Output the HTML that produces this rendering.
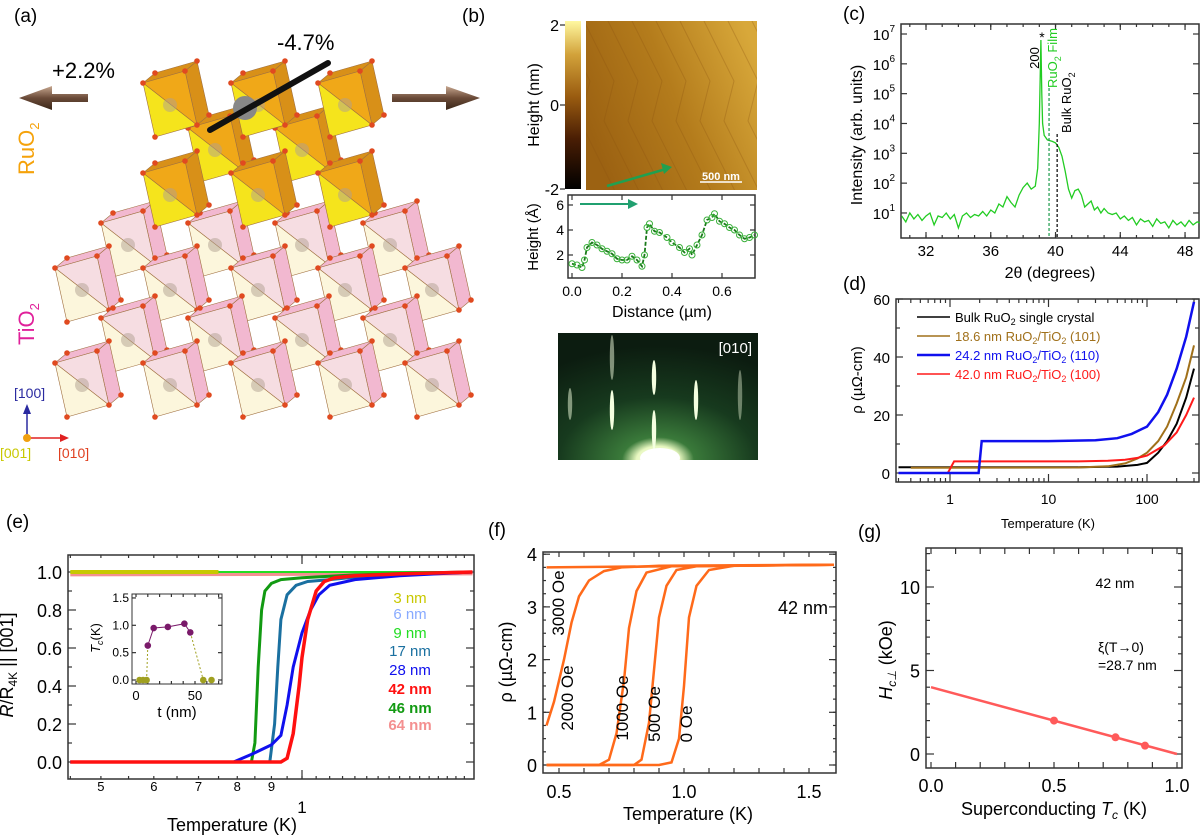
<!DOCTYPE html>
<html><head><meta charset="utf-8"><style>
html,body{margin:0;padding:0;background:#fff;}
svg{display:block;font-family:"Liberation Sans",sans-serif;}
</style></head><body>
<svg id="fig" width="1200" height="835" viewBox="0 0 1200 835" xmlns="http://www.w3.org/2000/svg">
<defs>
<linearGradient id="cbar" x1="0" y1="1" x2="0" y2="0">
<stop offset="0" stop-color="#000"/><stop offset="0.3" stop-color="#4a1e04"/><stop offset="0.55" stop-color="#9a5c10"/><stop offset="0.8" stop-color="#d2a23a"/><stop offset="1" stop-color="#fff8a0"/></linearGradient>
<linearGradient id="afm" x1="0" y1="0.6" x2="1" y2="0.2">
<stop offset="0" stop-color="#9c6212"/><stop offset="0.5" stop-color="#b47c1c"/><stop offset="1" stop-color="#d8a83a"/></linearGradient>
<radialGradient id="rheed" cx="0.5" cy="1" r="0.9">
<stop offset="0" stop-color="#fff"/><stop offset="0.12" stop-color="#e8f8c0"/><stop offset="0.2" stop-color="#3a7a3a"/><stop offset="0.55" stop-color="#173a1e"/><stop offset="1" stop-color="#0c1c10"/></radialGradient>
<linearGradient id="arrL" x1="0" y1="0" x2="0" y2="1"><stop offset="0" stop-color="#c8a890"/><stop offset="0.5" stop-color="#6a4a38"/><stop offset="1" stop-color="#3a2618"/></linearGradient>
</defs>
</svg>
<script>
var NS='http://www.w3.org/2000/svg';
var svg=document.getElementById('fig');
function mk(tag,attrs,parent,name,inter){
  var el=document.createElementNS(NS,tag);
  for(var k in attrs){el.setAttribute(k,attrs[k]);}
  
  
  (parent||svg).appendChild(el);return el;
}
function txt(x,y,s,attrs,parent,name){
  var a={x:x,y:y,fill:'#000'};for(var k in attrs)a[k]=attrs[k];
  var t=mk('text',a,parent,name);t.textContent=s;return t;
}
function grp(name){return mk('g',{},svg,name);}

/* ===== data arrays ===== */
var profD=[0,0.02,0.04,0.05,0.06,0.08,0.1,0.12,0.14,0.16,0.18,0.2,0.22,0.24,0.26,0.28,0.29,0.3,0.31,0.33,0.35,0.38,0.4,0.43,0.45,0.47,0.48,0.5,0.52,0.54,0.56,0.57,0.59,0.61,0.63,0.65,0.67,0.69,0.71,0.73];
var profH=[1.3,1.2,1.0,1.6,2.6,3.0,2.8,2.5,2.3,2.1,1.7,1.6,1.6,1.9,1.6,1.1,2.0,4.2,4.5,3.9,3.8,3.4,3.0,2.6,2.2,2.5,2.0,2.8,3.6,4.8,5.0,5.3,4.7,4.5,4.2,4.0,3.6,3.3,3.4,3.6];
var profXTicks=[0.0,0.2,0.4,0.6];
var profYTicks=[2,4,6];
var xrdT=[30.5,30.75,31,31.25,31.5,31.75,32,32.25,32.5,32.75,33,33.25,33.5,33.75,34,34.25,34.5,34.75,35,35.25,35.5,35.75,36,36.25,36.5,36.75,37,37.25,37.5,37.75,38,38.25,38.5,38.75,38.9,39.0,39.1,39.15,39.2,39.3,39.5,39.8,40.0,40.2,40.4,40.6,40.8,41.0,41.2,41.4,41.6,41.8,42.0,42.2,42.4,42.6,42.8,43.0,43.25,43.5,43.75,44,44.25,44.5,44.75,45,45.25,45.5,45.75,46,46.25,46.5,46.75,47,47.25,47.5,47.75,48,48.25,48.5,48.75,49];
var xrdLogI=[0.9,0.7,1.0,0.8,0.95,0.75,0.9,1.0,0.6,0.9,0.85,1.0,0.8,0.95,0.5,0.9,1.0,0.85,0.95,0.9,1.05,0.9,1.1,1.0,1.3,1.2,1.55,1.35,1.2,1.6,1.85,2.0,1.8,1.9,2.5,4.0,6.8,5.0,4.0,3.6,3.45,3.4,3.35,3.2,2.9,2.4,1.8,1.5,1.75,1.8,1.6,1.2,1.3,1.4,1.1,1.2,1.0,1.15,1.0,0.95,1.0,0.8,0.9,0.75,0.85,0.6,0.8,0.7,0.75,0.55,0.8,0.65,0.7,0.5,0.75,0.6,0.7,0.55,0.75,0.6,0.7,0.65];
var xrdXTicks=[32,36,40,44,48];
var xrdYTicks=[1,2,3,4,5,6,7];
var dLabels=['Bulk RuO2 single crystal','18.6 nm RuO2/TiO2 (101)','24.2 nm RuO2/TiO2 (110)','42.0 nm RuO2/TiO2 (100)'];
var dBulkT=[0.3,20,50,80,100,130,160,200,250,300];
var dBulkR=[2,2,2.2,2.8,3.5,7,11,17,26,36];
var d101T=[0.4,20,40,60,80,100,130,160,200,250,300];
var d101R=[1.8,1.9,2.3,3.3,5,7,11,16,24,33,44];
var d110T=[0.3,1.95,2.1,10,30,50,70,100,130,160,200,250,300];
var d110R=[0,0,11,11,11.3,12,13.5,16,21,27,36,47,59];
var d100T=[0.4,0.95,1.1,20,40,60,80,100,150,200,250,300];
var d100R=[0,0,4,4,4.2,4.6,5.2,6,9.5,14,20,26];
var dYTicks=[0,20,40,60];
var dXTicks=[1,10,100];
var eLabels=['3 nm','6 nm','9 nm','17 nm','28 nm','42 nm','46 nm','64 nm'];
var t46=[0.45,0.80,0.84,0.85,0.86,0.87,0.88,0.9,0.93,1.0,1.2,1.5,1.8];
var r46=[0,0,0,0.1,0.5,0.8,0.9,0.94,0.96,0.97,0.985,0.995,1.0];
var t17=[0.45,0.88,0.895,0.91,0.92,0.93,0.95,0.98,1.02,1.1,1.3,1.8];
var r17=[0,0,0,0.2,0.5,0.75,0.88,0.93,0.95,0.96,0.985,1.0];
var t28=[0.45,0.79,0.84,0.9,0.93,0.95,0.97,1.0,1.03,1.06,1.1,1.2,1.4,1.8];
var r28=[0,0,0.04,0.09,0.14,0.3,0.5,0.68,0.8,0.88,0.93,0.96,0.98,1.0];
var t42=[0.45,0.93,0.95,0.97,0.99,1.0,1.02,1.05,1.08,1.12,1.2,1.4,1.8];
var r42=[0,0,0.02,0.15,0.4,0.55,0.75,0.9,0.95,0.97,0.98,0.99,1.0];
var tFlat=[0.45,1.8];
var r3=[1.0,1.0];
var r64=[0.985,0.99];
var eYTicks=[0,0.2,0.4,0.6,0.8,1.0];
var eXTicks=[0.5,0.6,0.7,0.8,0.9,1.0];
var eXTickLabels=['5','6','7','8','9','1'];
var insSC_t=[10,15,27,41,46];
var insSC_tc=[0.63,0.95,0.97,1.03,0.87];
var insN_t=[3,6,9,57,64];
var insN_tc=[0,0,0,0,0];
var fLabels=['0 Oe','500 Oe','1000 Oe','2000 Oe','3000 Oe'];
var f0T=[0.45,0.9,0.95,0.98,1.0,1.02,1.05,1.1,1.2,1.6];
var f0R=[0,0,0.05,0.5,1.5,2.8,3.4,3.7,3.78,3.8];
var f500T=[0.45,0.8,0.83,0.86,0.88,0.9,0.93,0.97,1.05,1.6];
var f500R=[0,0,0.1,0.8,1.8,2.8,3.4,3.7,3.77,3.8];
var f1000T=[0.45,0.66,0.7,0.73,0.76,0.78,0.81,0.85,0.95,1.6];
var f1000R=[0,0,0.1,0.6,1.6,2.6,3.3,3.65,3.77,3.8];
var f2000T=[0.45,0.48,0.52,0.55,0.58,0.62,0.68,0.75,0.9,1.6];
var f2000R=[0.75,1.2,2.0,2.7,3.2,3.5,3.68,3.75,3.78,3.8];
var f3000T=[0.45,1.6];
var f3000R=[3.75,3.8];
var fXTicks=[0.5,1.0,1.5];
var fYTicks=[0,1,2,3,4];
var gTc=[0.5,0.75,0.87];
var gHc=[2.0,1.0,0.5];
var gFitTc=[0,1];
var gFitHc=[4.0,0];
var gXTicks=[0.0,0.5,1.0];
var gYTicks=[0,5,10];

function polyline(xs,ys,fx,fy,attrs,parent,name){
  var p='';for(var i=0;i<xs.length;i++){p+=(i?'L':'M')+fx(xs[i]).toFixed(1)+','+fy(ys[i]).toFixed(1);}
  var a={d:p,fill:'none'};for(var k in attrs)a[k]=attrs[k];
  return mk('path',a,parent,name);
}
function frame(x0,y0,x1,y1,parent,name){
  return mk('rect',{x:x0,y:y0,width:x1-x0,height:y1-y0,fill:'none',stroke:'#333','stroke-width':1.5},parent,name);
}
function tickMarks(parent,vals,fx,y0,y1,len,name){
  vals.forEach(function(v){var x=fx(v);
    mk('line',{x1:x,x2:x,y1:y1,y2:y1-len,stroke:'#333','stroke-width':1.2},parent,name);
    mk('line',{x1:x,x2:x,y1:y0,y2:y0+len,stroke:'#333','stroke-width':1.2},parent,name);});
}
function ytickMarks(parent,vals,fy,x0,x1,len,name){
  vals.forEach(function(v){var y=fy(v);
    mk('line',{x1:x0,x2:x0+len,y1:y,y2:y,stroke:'#333','stroke-width':1.2},parent,name);
    mk('line',{x1:x1,x2:x1-len,y1:y,y2:y,stroke:'#333','stroke-width':1.2},parent,name);});
}

txt(14,22,'(a)',{'font-size':19},svg,'panel-label-a');
txt(462,22,'(b)',{'font-size':19},svg,'panel-label-b');
txt(843,20,'(c)',{'font-size':19},svg,'panel-label-c');
txt(843,290,'(d)',{'font-size':19},svg,'panel-label-d');
txt(6,528,'(e)',{'font-size':19},svg,'panel-label-e');
txt(488,536,'(f)',{'font-size':19},svg,'panel-label-f');
txt(858,538,'(g)',{'font-size':19},svg,'panel-label-g');

(function(){
  var g=grp('crystal-structure');
  var ti=[[128,245],[215,245],[302,245],[390,245],[82,290],[170,290],[258,290],[345,290],[432,290],[128,340],[215,340],[302,340],[390,340],[82,385],[170,385],[258,385],[345,385],[432,385]];
  var ru=[[215,150],[302,150],[170,195],[258,195],[345,195],[170,105],[258,105],[345,105]];
  function oct(c,light,dark,side,name){
    var cx=c[0],cy=c[1];
    var P1=[cx-27,cy-22],P2=[cx+15,cy-34],P3=[cx+27,cy+20],P4=[cx-15,cy+32];
    var s=[12,-10];
    mk('polygon',{points:[P2,[P2[0]+s[0],P2[1]+s[1]],[P3[0]+s[0],P3[1]+s[1]],P3].join(' '),fill:side,stroke:'#a07040','stroke-width':0.6},g,'octahedron-side');
    mk('polygon',{points:[P1,[P1[0]+s[0],P1[1]+s[1]],[P2[0]+s[0],P2[1]+s[1]],P2].join(' '),fill:side,stroke:'#a07040','stroke-width':0.6},g,'octahedron-top');
    mk('polygon',{points:[P1,P2,P3].join(' '),fill:dark,stroke:'#a07040','stroke-width':0.6},g,'octahedron-face');
    mk('polygon',{points:[P1,P3,P4].join(' '),fill:light,stroke:'#a07040','stroke-width':0.6},g,'octahedron-face');
    mk('circle',{cx:cx,cy:cy,r:7,fill:'#b0a090','opacity':0.5},g,'cation');
    [P1,P2,P3,P4,[P2[0]+s[0],P2[1]+s[1]],[P3[0]+s[0],P3[1]+s[1]],[P1[0]+s[0],P1[1]+s[1]]].forEach(function(p){
      mk('circle',{cx:p[0],cy:p[1],r:2.8,fill:'#e04a20'},g,'oxygen-atom');});
  }
  ti.forEach(function(c){oct(c,'#fcf6dc','#f6dde2','#f2b8d0','tio2-octahedron');});
  ru.forEach(function(c){oct(c,'#f5e41c','#f0a818','#d89018','ruo2-octahedron');});
  mk('polygon',{points:'19,98 52,86 52,94 88,94 88,102 52,102 52,110',fill:'url(#arrL)'},g,'strain-arrow-left');
  mk('polygon',{points:'480,98 446,86 446,94 392,94 392,102 446,102 446,110',fill:'url(#arrL)'},g,'strain-arrow-right');
  mk('circle',{cx:245,cy:108,r:12,fill:'#888'},g,'compression-axis-end');
  mk('line',{x1:210,y1:130,x2:328,y2:63,stroke:'#111','stroke-width':6,'stroke-linecap':'round'},g,'compression-axis');
  txt(52,78,'+2.2%',{'font-size':22},g,'strain-label-tensile');
  txt(277,50,'-4.7%',{'font-size':22},g,'strain-label-compressive');
  var r=txt(0,0,'',{'font-size':22,fill:'#f5a20a',transform:'translate(34,175) rotate(-90)'},g,'ruo2-label');
  r.innerHTML='RuO<tspan font-size="13" dy="5">2</tspan>';
  var t2=txt(0,0,'',{'font-size':22,fill:'#e0209a',transform:'translate(34,345) rotate(-90)'},g,'tio2-label');
  t2.innerHTML='TiO<tspan font-size="13" dy="5">2</tspan>';
  mk('line',{x1:27,y1:438,x2:27,y2:412,stroke:'#2a2aa0','stroke-width':1.5},g,'axis-100');
  mk('polygon',{points:'23,414 31,414 27,404',fill:'#2a2aa0'},g,'axis-100-head');
  mk('line',{x1:27,y1:438,x2:62,y2:438,stroke:'#e02020','stroke-width':1.5},g,'axis-010');
  mk('polygon',{points:'60,434 60,442 69,438',fill:'#e02020'},g,'axis-010-head');
  mk('circle',{cx:27,cy:438,r:4,fill:'#f0a010'},g,'axis-001');
  txt(14,398,'[100]',{'font-size':14,fill:'#2a2aa0'},g,'label-100');
  txt(0,458,'[001]',{'font-size':14,fill:'#c8c800'},g,'label-001');
  txt(58,458,'[010]',{'font-size':14,fill:'#e04020'},g,'label-010');
})();

(function(){
  var g=grp('afm-panel');
  mk('rect',{x:565,y:21,width:16,height:168,fill:'url(#cbar)'},g,'colorbar');
  [[25,'2'],[105,'0'],[189,'-2']].forEach(function(a){
    txt(559,a[0]+6,a[1],{'font-size':16,'text-anchor':'end'},g,'colorbar-tick');
    mk('line',{x1:560,x2:565,y1:a[0],y2:a[0],stroke:'#000'},g,'colorbar-tickmark');});
  txt(0,0,'Height (nm)',{'font-size':16,'text-anchor':'middle',transform:'translate(539,105) rotate(-90)'},g,'colorbar-title');
  var afmClip=mk('clipPath',{id:'afmclip'},svg,'afm-clip');
  mk('rect',{x:586,y:21,width:171,height:169},afmClip,'afm-clip-rect');
  mk('rect',{x:586,y:21,width:171,height:169,fill:'url(#afm)'},g,'afm-image');
  var sg=mk('g',{'clip-path':'url(#afmclip)'},g,'afm-steps');
  for(var i=0;i<10;i++){
    mk('path',{d:'M'+(560+i*24)+',21 l30,60 l-10,40 l35,70',fill:'none',stroke:'#8a5410','stroke-width':1,opacity:0.3},sg,'terrace-step');}
  mk('line',{x1:700,y1:182,x2:742,y2:182,stroke:'#fff','stroke-width':1.5},g,'scale-bar');
  txt(721,180,'500 nm',{'font-size':11,fill:'#fff','text-anchor':'middle','font-weight':'bold'},g,'scale-bar-label');
  mk('line',{x1:607,y1:186,x2:666,y2:169,stroke:'#20a050','stroke-width':2.5},g,'linecut-arrow');
  mk('polygon',{points:'672,167 661,163 664,174',fill:'#20a050'},g,'linecut-arrow-head');
  var X0=568,X1=755,Y0=195,Y1=278;
  var fx=function(v){return 572+v*250;}, fy=function(v){return 280-v*12.5;};
  frame(X0,Y0,X1,Y1,g,'profile-frame');
  tickMarks(g,profXTicks,fx,Y0,Y1,5,'profile-xtick');
  ytickMarks(g,profYTicks,fy,X0,X1,5,'profile-ytick');
  profXTicks.forEach(function(v){txt(fx(v),296,v.toFixed(1),{'font-size':14,'text-anchor':'middle'},g,'profile-xtick-label');});
  profYTicks.forEach(function(v){txt(X0-4,fy(v)+5,String(v),{'font-size':14,'text-anchor':'end'},g,'profile-ytick-label');});
  txt(662,317,'Distance (µm)',{'font-size':16,'text-anchor':'middle'},g,'profile-x-title');
  txt(0,0,'Height (Å)',{'font-size':15,'text-anchor':'middle',transform:'translate(538,237) rotate(-90)'},g,'profile-y-title');
  polyline(profD,profH,fx,fy,{stroke:'#1a7a1a','stroke-width':1.8,'stroke-dasharray':'4,2'},g,'profile-line');
  profD.forEach(function(d,i){mk('circle',{cx:fx(d),cy:fy(profH[i]),r:3,fill:'none',stroke:'#3ab03a','stroke-width':1},g,'profile-point');});
  mk('line',{x1:580,y1:204,x2:630,y2:204,stroke:'#20a070','stroke-width':2},g,'profile-arrow');
  mk('polygon',{points:'638,204 628,199 628,209',fill:'#20a070'},g,'profile-arrow-head');
  mk('rect',{x:558,y:333,width:200,height:127,fill:'url(#rheed)'},g,'rheed-image');
  [[570,388,420,0.5],[612,335,380,0.5],[612,390,430,1],[654,360,395,1],[654,410,450,1],[696,380,420,1],[740,370,420,0.4]].forEach(function(s){
    mk('ellipse',{cx:s[0],cy:(s[1]+s[2])/2,rx:2.2,ry:(s[2]-s[1])/2,fill:'#f4ffe0',opacity:s[3]},g,'rheed-streak');});
  mk('ellipse',{cx:660,cy:458,rx:20,ry:10,fill:'#fff'},g,'rheed-specular-spot');
  txt(752,353,'[010]',{'font-size':15,fill:'#fff','text-anchor':'end'},g,'rheed-label');
})();

(function(){
  var g=grp('xrd-chart');
  var X0=901,X1=1199,Y0=24,Y1=238;
  var fx=function(v){return 926+(v-32)*16.19;}, fy=function(v){return 34+(7-v)*29.83;};
  frame(X0,Y0,X1,Y1,g,'xrd-frame');
  var minor=[];for(var t=31;t<=49;t+=1)minor.push(t);
  tickMarks(g,minor,fx,Y0,Y1,3,'xrd-minor-xtick');
  tickMarks(g,xrdXTicks,fx,Y0,Y1,6,'xrd-xtick');
  ytickMarks(g,xrdYTicks,fy,X0,X1,6,'xrd-ytick');
  xrdXTicks.forEach(function(v){txt(fx(v),256,String(v),{'font-size':15,'text-anchor':'middle'},g,'xrd-xtick-label');});
  xrdYTicks.forEach(function(v){var t=txt(X0-6,fy(v)+6,'',{'font-size':15,'text-anchor':'end'},g,'xrd-ytick-label');
    t.innerHTML='10<tspan font-size="10" dy="-8">'+v+'</tspan>';});
  txt(1050,278,'2θ (degrees)',{'font-size':16,'text-anchor':'middle'},g,'xrd-x-title');
  txt(0,0,'Intensity (arb. units)',{'font-size':16,'text-anchor':'middle',transform:'translate(862,135) rotate(-90)'},g,'xrd-y-title');
  polyline(xrdT,xrdLogI,fx,fy,{stroke:'#22cc22','stroke-width':1.3},g,'xrd-curve');
  mk('line',{x1:fx(39.6),x2:fx(39.6),y1:88,y2:Y1,stroke:'#1a9a4a','stroke-width':1.2,'stroke-dasharray':'3,2'},g,'film-peak-marker');
  mk('line',{x1:fx(40.1),x2:fx(40.1),y1:134,y2:Y1,stroke:'#000','stroke-width':1.2,'stroke-dasharray':'3,2'},g,'bulk-peak-marker');
  txt(0,0,'200',{'font-size':13,'text-anchor':'middle',transform:'translate(1039,58) rotate(-90)'},g,'substrate-peak-label');
  txt(1042,42,'*',{'font-size':14,'text-anchor':'middle'},g,'substrate-peak-star');
  var f=txt(0,0,'',{'font-size':13,fill:'#22cc22',transform:'translate(1057,88) rotate(-90)'},g,'film-peak-label');
  f.innerHTML='RuO<tspan font-size="9" dy="4">2</tspan><tspan dy="-4"> Film</tspan>';
  var b=txt(0,0,'',{'font-size':13,transform:'translate(1071,133) rotate(-90)'},g,'bulk-peak-label');
  b.innerHTML='Bulk RuO<tspan font-size="9" dy="4">2</tspan>';
})();

(function(){
  var g=grp('resistivity-chart');
  var X0=896,X1=1199,Y0=299,Y1=482;
  var fx=function(v){return 950+Math.log10(v)*98.5;}, fy=function(v){return 473-v*2.9;};
  frame(X0,Y0,X1,Y1,g,'d-frame');
  var minor=[];[0.1,1,10,100].forEach(function(d){for(var k=2;k<10;k++){var v=d*k;if(v>=0.3&&v<=300)minor.push(v);}});
  tickMarks(g,minor,fx,Y0,Y1,4,'d-minor-xtick');
  tickMarks(g,dXTicks,fx,Y0,Y1,8,'d-xtick');
  ytickMarks(g,[10,30,50],fy,X0,X1,4,'d-minor-ytick');
  ytickMarks(g,dYTicks,fy,X0,X1,7,'d-ytick');
  dXTicks.forEach(function(v){txt(fx(v),504,String(v),{'font-size':14,'text-anchor':'middle'},g,'d-xtick-label');});
  dYTicks.forEach(function(v){txt(X0-6,fy(v)+6,String(v),{'font-size':15,'text-anchor':'end'},g,'d-ytick-label');});
  txt(1048,528,'Temperature (K)',{'font-size':13,'text-anchor':'middle'},g,'d-x-title');
  txt(0,0,'ρ (µΩ-cm)',{'font-size':15,'text-anchor':'middle',transform:'translate(862,380) rotate(-90)'},g,'d-y-title');
  var cols=['#000','#a0701a','#1010ee','#ff1a1a'];
  polyline(dBulkT,dBulkR,fx,fy,{stroke:cols[0],'stroke-width':2},g,'series-bulk');
  polyline(d101T,d101R,fx,fy,{stroke:cols[1],'stroke-width':2},g,'series-101');
  polyline(d100T,d100R,fx,fy,{stroke:cols[3],'stroke-width':2},g,'series-100');
  polyline(d110T,d110R,fx,fy,{stroke:cols[2],'stroke-width':2.5},g,'series-110');
  dLabels.forEach(function(l,i){var y=317+i*19;
    mk('line',{x1:917,x2:950,y1:y,y2:y,stroke:cols[i],'stroke-width':i==2?2.5:1.5},g,'legend-swatch');
    var t=txt(955,y+5,'',{'font-size':13,fill:cols[i]},g,'legend-entry');
    var p=l.split('RuO2');var s=p[0]+'RuO<tspan font-size="9" dy="3">2</tspan><tspan dy="-3">'+p[1].replace('TiO2','TiO<tspan font-size="9" dy="3">2</tspan><tspan dy="-3">')+'</tspan>'+(p[1].indexOf('TiO2')>=0?'</tspan>':'');
    t.innerHTML=s;});
})();

(function(){
  var g=grp('normalized-resistance-chart');
  var X0=68,X1=474,Y0=555,Y1=779;
  var fx=function(v){return 302+Math.log10(v)*668;}, fy=function(v){return 762-v*190;};
  frame(X0,Y0,X1,Y1,g,'e-frame');
  var minor=[];for(var v=0.45;v<1.8;v+=0.05)minor.push(v);
  tickMarks(g,minor,fx,Y0,Y1,3,'e-minor-xtick');
  tickMarks(g,[1.0],fx,Y0,Y1,9,'e-xtick');
  ytickMarks(g,[0.1,0.3,0.5,0.7,0.9],fy,X0,X1,4,'e-minor-ytick');
  ytickMarks(g,eYTicks,fy,X0,X1,8,'e-ytick');
  eXTicks.forEach(function(v,i){txt(fx(v),i==5?813:791,eXTickLabels[i],{'font-size':i==5?17:13,'text-anchor':'middle'},g,'e-xtick-label');});
  eYTicks.forEach(function(v){txt(X0-6,fy(v)+7,v.toFixed(1),{'font-size':18,'text-anchor':'end'},g,'e-ytick-label');});
  txt(232,831,'Temperature (K)',{'font-size':18,'text-anchor':'middle'},g,'e-x-title');
  var yt=txt(0,0,'',{'font-size':18,'text-anchor':'middle',transform:'translate(13,665) rotate(-90)'},g,'e-y-title');
  yt.innerHTML='<tspan font-style="italic">R</tspan>/R<tspan font-size="12" dy="4">4K</tspan><tspan dy="-4">  || [001]</tspan>';
  polyline(tFlat,r64,fx,fy,{stroke:'#f49090','stroke-width':3},g,'series-64nm');
  polyline(tFlat,r3,fx,fy,{stroke:'#88aaff','stroke-width':2},g,'series-6nm');
  polyline(tFlat,r3,fx,fy,{stroke:'#22dd22','stroke-width':2},g,'series-9nm');
  polyline([0.45,0.75],r3,fx,fy,{stroke:'#c8c800','stroke-width':4},g,'series-3nm');
  polyline(t46,r46,fx,fy,{stroke:'#129a12','stroke-width':3},g,'series-46nm');
  polyline(t17,r17,fx,fy,{stroke:'#1a70a0','stroke-width':3},g,'series-17nm');
  polyline(t28,r28,fx,fy,{stroke:'#1010ee','stroke-width':3},g,'series-28nm');
  polyline(t42,r42,fx,fy,{stroke:'#ff1010','stroke-width':3.5},g,'series-42nm');
  var lc=['#c8c800','#88aaff','#22dd22','#1a70a0','#1010ee','#ff1010','#129a12','#f49090'];
  eLabels.forEach(function(l,i){var bold=i>=5;
    txt(410,[598,614,633,651,670,689,708,725][i]+5,l,{'font-size':15,fill:lc[i],'text-anchor':'middle','font-weight':bold?'bold':'normal'},g,'legend-entry');});
  var IX0=132,IX1=222,IY0=594,IY1=684;
  var ix=function(v){return 136+v*1.18;}, iy=function(v){return 680-v*54.7;};
  mk('rect',{x:IX0,y:IY0,width:IX1-IX0,height:IY1-IY0,fill:'#fff',stroke:'#333','stroke-width':1},g,'inset-frame');
  tickMarks(g,[0,10,20,30,40,50,60,70],ix,IY0,IY1,3,'inset-xtick');
  ytickMarks(g,[0,0.5,1.0,1.5],iy,IX0,IX1,4,'inset-ytick');
  [0,50].forEach(function(v){txt(ix(v),700,String(v),{'font-size':13,'text-anchor':'middle'},g,'inset-xtick-label');});
  [0,0.5,1.0,1.5].forEach(function(v){txt(IX0-3,iy(v)+4,v.toFixed(1),{'font-size':12,'text-anchor':'end'},g,'inset-ytick-label');});
  txt(177,717,'t (nm)',{'font-size':15,'text-anchor':'middle'},g,'inset-x-title');
  var it=txt(0,0,'',{'font-size':13,'text-anchor':'middle',transform:'translate(100,638) rotate(-90)'},g,'inset-y-title');
  it.innerHTML='<tspan font-style="italic">T</tspan><tspan font-size="9" dy="3" font-style="italic">c</tspan><tspan dy="-3">(K)</tspan>';
  polyline([9,10],[0,0.63],ix,iy,{stroke:'#a0a020','stroke-width':1,'stroke-dasharray':'2,2'},g,'inset-connector');
  polyline([46,57],[0.87,0],ix,iy,{stroke:'#a0a020','stroke-width':1,'stroke-dasharray':'2,2'},g,'inset-connector');
  polyline(insSC_t,insSC_tc,ix,iy,{stroke:'#7a1a6a','stroke-width':1},g,'inset-sc-line');
  insSC_t.forEach(function(t,i){mk('circle',{cx:ix(t),cy:iy(insSC_tc[i]),r:3.3,fill:'#7a1a6a'},g,'inset-sc-point');});
  insN_t.forEach(function(t,i){mk('circle',{cx:ix(t),cy:iy(insN_tc[i]),r:3.3,fill:'#a0a020'},g,'inset-normal-point');});
})();

(function(){
  var g=grp('field-resistivity-chart');
  var X0=543,X1=836,Y0=552,Y1=773;
  var fx=function(v){return 684+(v-1)*250;}, fy=function(v){return 765-v*52.7;};
  frame(X0,Y0,X1,Y1,g,'f-frame');
  var minor=[];for(var v=0.5;v<1.6;v+=0.1)minor.push(v);
  tickMarks(g,minor,fx,Y0,Y1,5,'f-xtick');
  var ym=[];for(var v2=0;v2<=4.01;v2+=0.25)ym.push(v2);
  ytickMarks(g,ym,fy,X0,X1,3,'f-minor-ytick');
  ytickMarks(g,fYTicks,fy,X0,X1,7,'f-ytick');
  fXTicks.forEach(function(v){txt(fx(v),798,v.toFixed(1),{'font-size':18,'text-anchor':'middle'},g,'f-xtick-label');});
  fYTicks.forEach(function(v){txt(X0-6,fy(v)+7,String(v),{'font-size':18,'text-anchor':'end'},g,'f-ytick-label');});
  txt(688,820,'Temperature (K)',{'font-size':18,'text-anchor':'middle'},g,'f-x-title');
  txt(0,0,'ρ (µΩ-cm)',{'font-size':18,'text-anchor':'middle',transform:'translate(512,662) rotate(-90)'},g,'f-y-title');
  var c='#ff6a1a';
  var clip=mk('clipPath',{id:'fclip'},svg,'f-clip');
  mk('rect',{x:X0,y:Y0,width:X1-X0,height:Y1-Y0},clip,'f-clip-rect');
  var cg=mk('g',{'clip-path':'url(#fclip)'},g,'f-series');
  polyline(f3000T,f3000R,fx,fy,{stroke:c,'stroke-width':2.5},cg,'series-3000oe');
  polyline(f2000T,f2000R,fx,fy,{stroke:c,'stroke-width':2.5},cg,'series-2000oe');
  polyline(f1000T,f1000R,fx,fy,{stroke:c,'stroke-width':2.5},cg,'series-1000oe');
  polyline(f500T,f500R,fx,fy,{stroke:c,'stroke-width':2.5},cg,'series-500oe');
  polyline(f0T,f0R,fx,fy,{stroke:c,'stroke-width':2.5},cg,'series-0oe');
  var pos=[[692,724],[660,714],[628,708],[573,698],[564,603]];
  fLabels.forEach(function(l,i){txt(0,0,l,{'font-size':17,'text-anchor':'middle',transform:'translate('+pos[i][0]+','+pos[i][1]+') rotate(-90)'},g,'field-label');});
  txt(828,614,'42 nm',{'font-size':18,'text-anchor':'end'},g,'f-thickness-label');
})();

(function(){
  var g=grp('critical-field-chart');
  var X0=926,X1=1182,Y0=548,Y1=768;
  var fx=function(v){return 931+v*246;}, fy=function(v){return 754-v*16.7;};
  frame(X0,Y0,X1,Y1,g,'g-frame');
  tickMarks(g,[0,0.1,0.2,0.3,0.4,0.5,0.6,0.7,0.8,0.9,1.0],fx,Y0,Y1,6,'g-xtick');
  ytickMarks(g,[1,2,3,4,6,7,8,9,11,12],fy,X0,X1,4,'g-minor-ytick');
  ytickMarks(g,gYTicks,fy,X0,X1,8,'g-ytick');
  gXTicks.forEach(function(v){txt(fx(v),792,v.toFixed(1),{'font-size':18,'text-anchor':'middle'},g,'g-xtick-label');});
  gYTicks.forEach(function(v){txt(X0-6,fy(v)+7,String(v),{'font-size':18,'text-anchor':'end'},g,'g-ytick-label');});
  var xt=txt(1054,815,'',{'font-size':18,'text-anchor':'middle'},g,'g-x-title');
  xt.innerHTML='Superconducting <tspan font-style="italic">T</tspan><tspan font-size="12" dy="4" font-style="italic">c</tspan><tspan dy="-4"> (K)</tspan>';
  var yt=txt(0,0,'',{'font-size':18,'text-anchor':'middle',transform:'translate(892,660) rotate(-90)'},g,'g-y-title');
  yt.innerHTML='<tspan font-style="italic">H</tspan><tspan font-size="12" dy="4" font-style="italic">c⊥</tspan><tspan dy="-4"> (kOe)</tspan>';
  polyline(gFitTc,gFitHc,fx,fy,{stroke:'#ff5a5a','stroke-width':2.5},g,'g-fit-line');
  gTc.forEach(function(t,i){mk('circle',{cx:fx(t),cy:fy(gHc[i]),r:4,fill:'#ff5a5a'},g,'g-point');});
  txt(1115,588,'42 nm',{'font-size':14,'text-anchor':'middle'},g,'g-thickness-label');
  txt(1098,652,'ξ(T→0)',{'font-size':14},g,'coherence-label');
  txt(1098,670,'=28.7 nm',{'font-size':14},g,'coherence-value');
})();
</script>
</body></html>
